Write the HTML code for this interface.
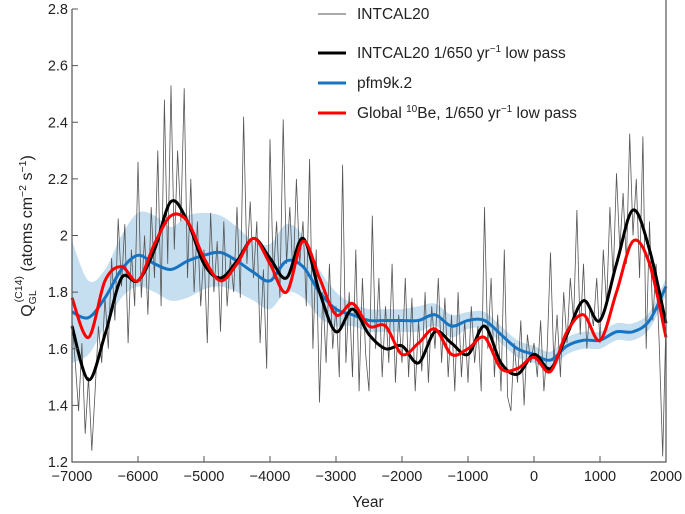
<!DOCTYPE html>
<html><head><meta charset="utf-8"><style>
html,body{margin:0;padding:0;background:#fff;width:685px;height:514px;overflow:hidden;}
svg{display:block;font-family:"Liberation Sans",sans-serif;}
</style></head><body>
<svg id="chart" width="685" height="514" viewBox="0 0 685 514" xmlns="http://www.w3.org/2000/svg">
<g id="band"></g>
<g id="gray"></g>
<g id="lines"></g>
<g id="axes"></g>
<g id="legend"></g>
</svg>
<script>
const smoothYears = [-7000,-6750,-6500,-6250,-6000,-5750,-5500,-5250,-5000,-4750,-4500,-4250,-4000,-3750,-3500,-3250,-3000,-2750,-2500,-2250,-2000,-1750,-1500,-1250,-1000,-750,-500,-250,0,250,500,750,1000,1250,1500,1750,2000];
const intcalLowPass = [1.68,1.49,1.65,1.85,1.84,1.95,2.12,2.05,1.90,1.85,1.91,1.99,1.92,1.85,1.99,1.80,1.66,1.74,1.65,1.60,1.61,1.55,1.66,1.62,1.58,1.68,1.55,1.51,1.58,1.53,1.65,1.77,1.70,1.90,2.09,1.95,1.69];
const be10LowPass = [1.78,1.64,1.84,1.89,1.84,1.97,2.07,2.05,1.92,1.84,1.90,1.99,1.90,1.80,1.98,1.85,1.72,1.76,1.68,1.68,1.58,1.62,1.67,1.58,1.60,1.64,1.53,1.53,1.57,1.52,1.66,1.72,1.63,1.80,1.98,1.90,1.64];
const pfm9k2 = [1.73,1.71,1.78,1.88,1.93,1.90,1.88,1.91,1.93,1.94,1.91,1.87,1.84,1.91,1.89,1.80,1.74,1.72,1.70,1.70,1.70,1.70,1.72,1.68,1.70,1.70,1.65,1.60,1.58,1.56,1.61,1.63,1.63,1.66,1.66,1.70,1.82];
const pfmUpper = [1.98,1.84,1.88,2.00,2.08,2.07,2.03,2.07,2.08,2.07,2.03,1.98,1.97,2.04,2.00,1.88,1.80,1.76,1.74,1.74,1.74,1.75,1.76,1.72,1.73,1.73,1.68,1.63,1.61,1.59,1.64,1.66,1.66,1.69,1.69,1.73,1.85];
const pfmLower = [1.55,1.58,1.68,1.78,1.82,1.80,1.77,1.78,1.81,1.82,1.80,1.77,1.74,1.80,1.78,1.71,1.68,1.68,1.66,1.66,1.66,1.66,1.68,1.64,1.67,1.67,1.62,1.57,1.55,1.53,1.58,1.60,1.60,1.63,1.63,1.67,1.79];
const intcalStart = -7000, intcalStep = 50;
const intcal20 = [
1.70,1.55,1.38,1.62,1.30,1.50,1.24,1.45,1.68,1.55,
1.78,1.60,1.92,1.70,2.06,1.82,2.04,1.62,1.95,1.75,
2.26,1.78,2.00,1.72,2.10,1.85,2.30,1.75,2.48,1.90,
2.53,1.95,2.30,2.05,2.52,1.85,2.20,1.80,2.05,1.75,
1.95,1.62,2.08,1.80,1.98,1.66,2.05,1.75,1.92,1.80,
2.10,1.78,2.42,1.90,2.12,1.85,2.05,1.62,1.88,1.53,
2.34,1.85,2.05,1.78,2.41,1.90,2.10,1.85,2.20,1.90,
2.05,1.75,2.27,1.60,1.95,1.41,1.80,1.55,1.90,1.60,
1.75,1.50,2.25,1.55,1.80,1.50,1.95,1.45,1.85,1.58,
1.45,2.07,1.60,1.85,1.50,1.75,1.55,1.90,1.48,1.72,
1.55,1.85,1.50,1.78,1.45,1.70,1.52,1.80,1.48,1.75,
1.60,1.85,1.55,1.78,1.50,1.72,1.45,1.80,1.50,1.70,
1.48,1.75,1.55,1.68,1.45,2.10,1.60,1.85,1.50,1.72,
1.45,1.95,1.43,1.38,1.62,1.48,1.70,1.40,1.65,1.55,
1.62,1.50,1.70,1.45,1.60,1.94,1.55,1.72,1.50,1.80,
1.62,1.85,1.70,2.09,1.65,1.90,1.60,1.75,1.68,1.85,
1.62,1.95,1.75,2.10,1.85,2.22,1.95,2.15,1.90,2.36,
2.00,2.20,1.85,2.35,1.60,2.05,1.70,1.90,1.60,1.22,
1.70];
const xTicks = [-7000,-6000,-5000,-4000,-3000,-2000,-1000,0,1000,2000];
const xTickLabels = ["\u22127000","\u22126000","\u22125000","\u22124000","\u22123000","\u22122000","\u22121000","0","1000","2000"];
const yTicks = [1.2,1.4,1.6,1.8,2,2.2,2.4,2.6,2.8];
const yTickLabels = ["1.2","1.4","1.6","1.8","2","2.2","2.4","2.6","2.8"];

const NS="http://www.w3.org/2000/svg";
const X0=72,X1=666,Y0=462,Y1=9;
const xs=v=>X0+(v+7000)/9000*(X1-X0);
const ys=v=>Y0-(v-1.2)/1.6*(Y0-Y1);
function mk(tag,attrs,parent){const e=document.createElementNS(NS,tag);for(const k in attrs)e.setAttribute(k,attrs[k]);parent.appendChild(e);return e;}
function smoothPath(pts){let d="M"+pts[0][0].toFixed(2)+","+pts[0][1].toFixed(2);
 for(let i=0;i<pts.length-1;i++){const p0=pts[Math.max(0,i-1)],p1=pts[i],p2=pts[i+1],p3=pts[Math.min(pts.length-1,i+2)];
  const c1=[p1[0]+(p2[0]-p0[0])/6,p1[1]+(p2[1]-p0[1])/6],c2=[p2[0]-(p3[0]-p1[0])/6,p2[1]-(p3[1]-p1[1])/6];
  d+="C"+c1[0].toFixed(2)+","+c1[1].toFixed(2)+" "+c2[0].toFixed(2)+","+c2[1].toFixed(2)+" "+p2[0].toFixed(2)+","+p2[1].toFixed(2);}
 return d;}
const up=smoothYears.map((y,i)=>[xs(y),ys(pfmUpper[i])]);
const lo=smoothYears.map((y,i)=>[xs(y),ys(pfmLower[i])]).reverse();
const bandD=smoothPath(up)+" L"+smoothPath(lo).slice(1)+"Z";
const band=mk("path",{d:bandD,fill:"#c6dff0",stroke:"none"},document.getElementById("band"));


const gpts=intcal20.map((v,i)=>xs(intcalStart+i*intcalStep).toFixed(2)+","+ys(v).toFixed(2)).join(" ");
const gl=mk("polyline",{points:gpts,fill:"none",stroke:"#555",'stroke-width':0.8},document.getElementById("gray"));


const L=document.getElementById("lines");
const bl=mk("path",{d:smoothPath(smoothYears.map((y,i)=>[xs(y),ys(pfm9k2[i])])),fill:"none",stroke:"#1874c1",'stroke-width':3},L);


const kl=mk("path",{d:smoothPath(smoothYears.map((y,i)=>[xs(y),ys(intcalLowPass[i])])),fill:"none",stroke:"#000",'stroke-width':3},L);


const rl=mk("path",{d:smoothPath(smoothYears.map((y,i)=>[xs(y),ys(be10LowPass[i])])),fill:"none",stroke:"#f00",'stroke-width':3},L);


const A=document.getElementById("axes");
const ax=mk("path",{d:`M${X0},${Y1}V${Y0}H${X1}V0`,fill:"none",stroke:"#555",'stroke-width':1.2},A);


xTicks.forEach((t,i)=>{const x=xs(t);mk("line",{x1:x,x2:x,y1:Y0,y2:Y0-6,stroke:"#555"},A);
 const tx=mk("text",{x:x,y:Y0+19,'text-anchor':'middle','font-size':14.5,fill:"#222"},A);tx.textContent=xTickLabels[i];
 
 });
yTicks.forEach((t,i)=>{const y=ys(t);mk("line",{x1:X0,x2:X0+6,y1:y,y2:y,stroke:"#555"},A);
 const tx=mk("text",{x:X0-4,y:y+5,'text-anchor':'end','font-size':14.5,fill:"#222"},A);tx.textContent=yTickLabels[i];
 
 });
const S=document.getElementById("chart");
const xt=document.createElementNS(NS,"text");
xt.setAttribute("x",368);xt.setAttribute("y",507);xt.setAttribute("text-anchor","middle");xt.setAttribute("font-size",15.5);xt.setAttribute("fill","#222");xt.textContent="Year";


S.appendChild(xt);
const yt=document.createElementNS(NS,"text");
yt.setAttribute("transform","translate(32,236) rotate(-90)");yt.setAttribute("text-anchor","middle");yt.setAttribute("font-size",16);yt.setAttribute("fill","#222");
yt.innerHTML='Q<tspan font-size="10.5" dy="4">GL</tspan><tspan font-size="10.5" dx="-12" dy="-14">(C14)</tspan><tspan dy="10"> (atoms cm</tspan><tspan font-size="10.5" dy="-6">\u22122</tspan><tspan dy="6"> s</tspan><tspan font-size="10.5" dy="-6">\u22121</tspan><tspan dy="6">)</tspan>';


S.appendChild(yt);
const LG=document.getElementById("legend");
const entries=[
 {y:14,c:"#555",w:0.9,t:'INTCAL20',n:'legend-intcal20'},
 {y:53,c:"#000",w:3,t:'INTCAL20 1/650 yr<tspan font-size="10" dy="-6">\u22121</tspan><tspan dy="6"> low pass</tspan>',n:'legend-intcal20-lowpass'},
 {y:83,c:"#1874c1",w:3,t:'pfm9k.2',n:'legend-pfm9k2'},
 {y:113,c:"#f00",w:3,t:'Global <tspan font-size="10" dy="-6">10</tspan><tspan dy="6">Be, 1/650 yr</tspan><tspan font-size="10" dy="-6">\u22121</tspan><tspan dy="6"> low pass</tspan>',n:'legend-be10'}];
entries.forEach(e=>{const g=document.createElementNS(NS,"g");
 
 
 const l=document.createElementNS(NS,"line");l.setAttribute("x1",318);l.setAttribute("x2",346);l.setAttribute("y1",e.y);l.setAttribute("y2",e.y);l.setAttribute("stroke",e.c);l.setAttribute("stroke-width",e.w);g.appendChild(l);
 const t=document.createElementNS(NS,"text");t.setAttribute("x",357);t.setAttribute("y",e.y+5);t.setAttribute("font-size",15.5);t.setAttribute("fill","#222");t.innerHTML=e.t;g.appendChild(t);
 LG.appendChild(g);});
</script>
</body></html>
